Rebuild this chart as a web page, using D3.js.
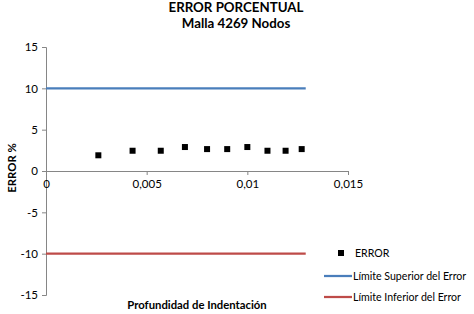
<!DOCTYPE html>
<html>
<head>
<meta charset="utf-8">
<script src="https://cdn.jsdelivr.net/npm/d3@7"></script>
<style>
  body { margin: 0; background: #fff; }
  text { font-family: Lato, "Open Sans", sans-serif; fill: #000; }
</style>
</head>
<body>
<script>
const width = 474
const height = 314

// profundidad de indentación vs error %
const depth = [0.0026, 0.0043, 0.0057, 0.0069, 0.008, 0.009, 0.01, 0.011, 0.0119, 0.0127]
const errorPct = [1.9, 2.45, 2.45, 2.9, 2.65, 2.65, 2.9, 2.45, 2.45, 2.65]

// limit lines
const limitX = [0, 0.0129]
const upperLimit = [10, 10]
const lowerLimit = [-10, -10]

const xTicks = [0, 0.005, 0.01, 0.015]
const yTicks = [15, 10, 5, 0, -5, -10, -15]

const x = d3.scaleLinear().domain([0, 0.015]).range([46, 348])
const y = d3.scaleLinear().domain([-15, 15]).range([295, 47])

const fmt = d => d3.format('')(d).replace('.', ',')
const axisColor = '#868686'

const svg = d3.select('body').append('svg')
  .attr('width', width)
  .attr('height', height)

// titles
svg.append('text').attr('x', 236).attr('y', 12)
  .attr('text-anchor', 'middle').style('font-weight', 'bold').style('font-size', '13.3px')
  .text('ERROR PORCENTUAL')
svg.append('text').attr('x', 236).attr('y', 28)
  .attr('text-anchor', 'middle').style('font-weight', 'bold').style('font-size', '13.3px')
  .text('Malla 4269 Nodos')

// y axis
const yAxis = svg.append('g')
  .attr('transform', `translate(${x(0)},0)`)
  .call(d3.axisLeft(y).tickValues(yTicks).tickSize(4).tickPadding(4).tickFormat(d => d))
yAxis.select('.domain').attr('stroke', axisColor)
yAxis.selectAll('.tick line').attr('stroke', axisColor)
yAxis.selectAll('.tick text').style('font-size', '11.5px').attr('font-family', null)

// x axis at zero
const xAxis = svg.append('g')
  .attr('transform', `translate(0,${y(0)})`)
  .call(d3.axisBottom(x).tickValues(xTicks).tickSize(4).tickPadding(5).tickFormat(fmt))
xAxis.select('.domain').attr('stroke', axisColor)
xAxis.selectAll('.tick line').attr('stroke', axisColor)
xAxis.selectAll('.tick text').style('font-size', '11.5px').attr('font-family', null)

// axis titles
svg.append('text')
  .attr('transform', `translate(16,${y(0) - 3}) rotate(-90)`)
  .attr('text-anchor', 'middle').style('font-weight', 'bold').style('font-size', '11.3px')
  .text('ERROR %')
svg.append('text').attr('x', 197).attr('y', 309)
  .attr('text-anchor', 'middle').style('font-weight', 'bold').style('font-size', '11.3px')
  .text('Profundidad de Indentación')

// limit lines
const line = d3.line().x(d => x(d[0])).y(d => y(d[1]))
const limits = [
  { name: 'Límite Superior del Error', vals: upperLimit, color: '#4A7EBB' },
  { name: 'Límite Inferior del Error', vals: lowerLimit, color: '#BE4B48' }
]
limits.forEach(l => {
  svg.append('path')
    .datum(limitX.map((v, i) => [v, l.vals[i]]))
    .attr('d', line)
    .attr('fill', 'none')
    .attr('stroke', l.color)
    .attr('stroke-width', 2.25)
})

// error points
const sq = 6
svg.selectAll('.pt')
  .data(depth.map((d, i) => [d, errorPct[i]]))
  .enter().append('rect')
  .attr('class', 'pt')
  .attr('x', d => x(d[0]) - sq / 2)
  .attr('y', d => y(d[1]) - sq / 2)
  .attr('width', sq).attr('height', sq)
  .attr('fill', '#000')

// legend
const lg = svg.append('g').style('font-size', '10.6px')
lg.append('rect').attr('x', 338).attr('y', 250).attr('width', sq).attr('height', sq).attr('fill', '#000')
lg.append('text').attr('x', 355).attr('y', 257).text('ERROR')
limits.forEach((l, i) => {
  const yy = 276 + i * 21
  lg.append('line').attr('x1', 324).attr('x2', 352).attr('y1', yy).attr('y2', yy)
    .attr('stroke', l.color).attr('stroke-width', 2.25)
  lg.append('text').attr('x', 353).attr('y', yy + 3.5).text(l.name)
})
</script>
</body>
</html>
